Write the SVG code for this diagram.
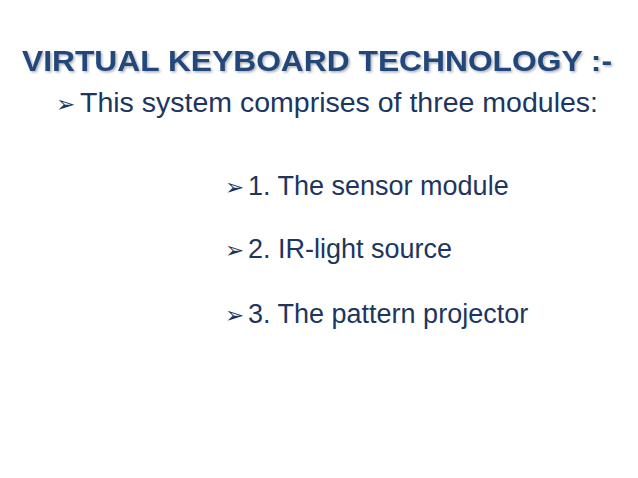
<svg xmlns="http://www.w3.org/2000/svg" width="638" height="478" viewBox="0 0 638 478">
<defs>
<filter id="sh" x="-5%" y="-30%" width="110%" height="160%"><feDropShadow dx="1.5" dy="1.5" stdDeviation="1" flood-color="#000" flood-opacity="0.3"/></filter>
</defs>
<style>
.t{font-family:"Liberation Sans",Arial,sans-serif;font-weight:bold;font-size:30px;fill:#23477a}
.b{font-family:"Liberation Sans",Arial,sans-serif;font-size:27px;fill:#1c3660}
.a{font-family:"DejaVu Sans",sans-serif;font-size:23px;fill:#1c3660}
</style>
<rect width="638" height="478" fill="#fff"/>
<text class="t" x="22" y="71" textLength="590" lengthAdjust="spacingAndGlyphs" filter="url(#sh)">VIRTUAL KEYBOARD TECHNOLOGY :-</text>
<text class="a" x="56" y="112">➢</text>
<text class="b" x="80" y="112" textLength="518" lengthAdjust="spacingAndGlyphs">This system comprises of three modules:</text>
<text class="a" x="225" y="195">➢</text>
<text class="b" x="248" y="195">1. The sensor module</text>
<text class="a" x="225" y="258">➢</text>
<text class="b" x="248" y="258">2. IR-light source</text>
<text class="a" x="225" y="323">➢</text>
<text class="b" x="248" y="323">3. The pattern projector</text>
</svg>
